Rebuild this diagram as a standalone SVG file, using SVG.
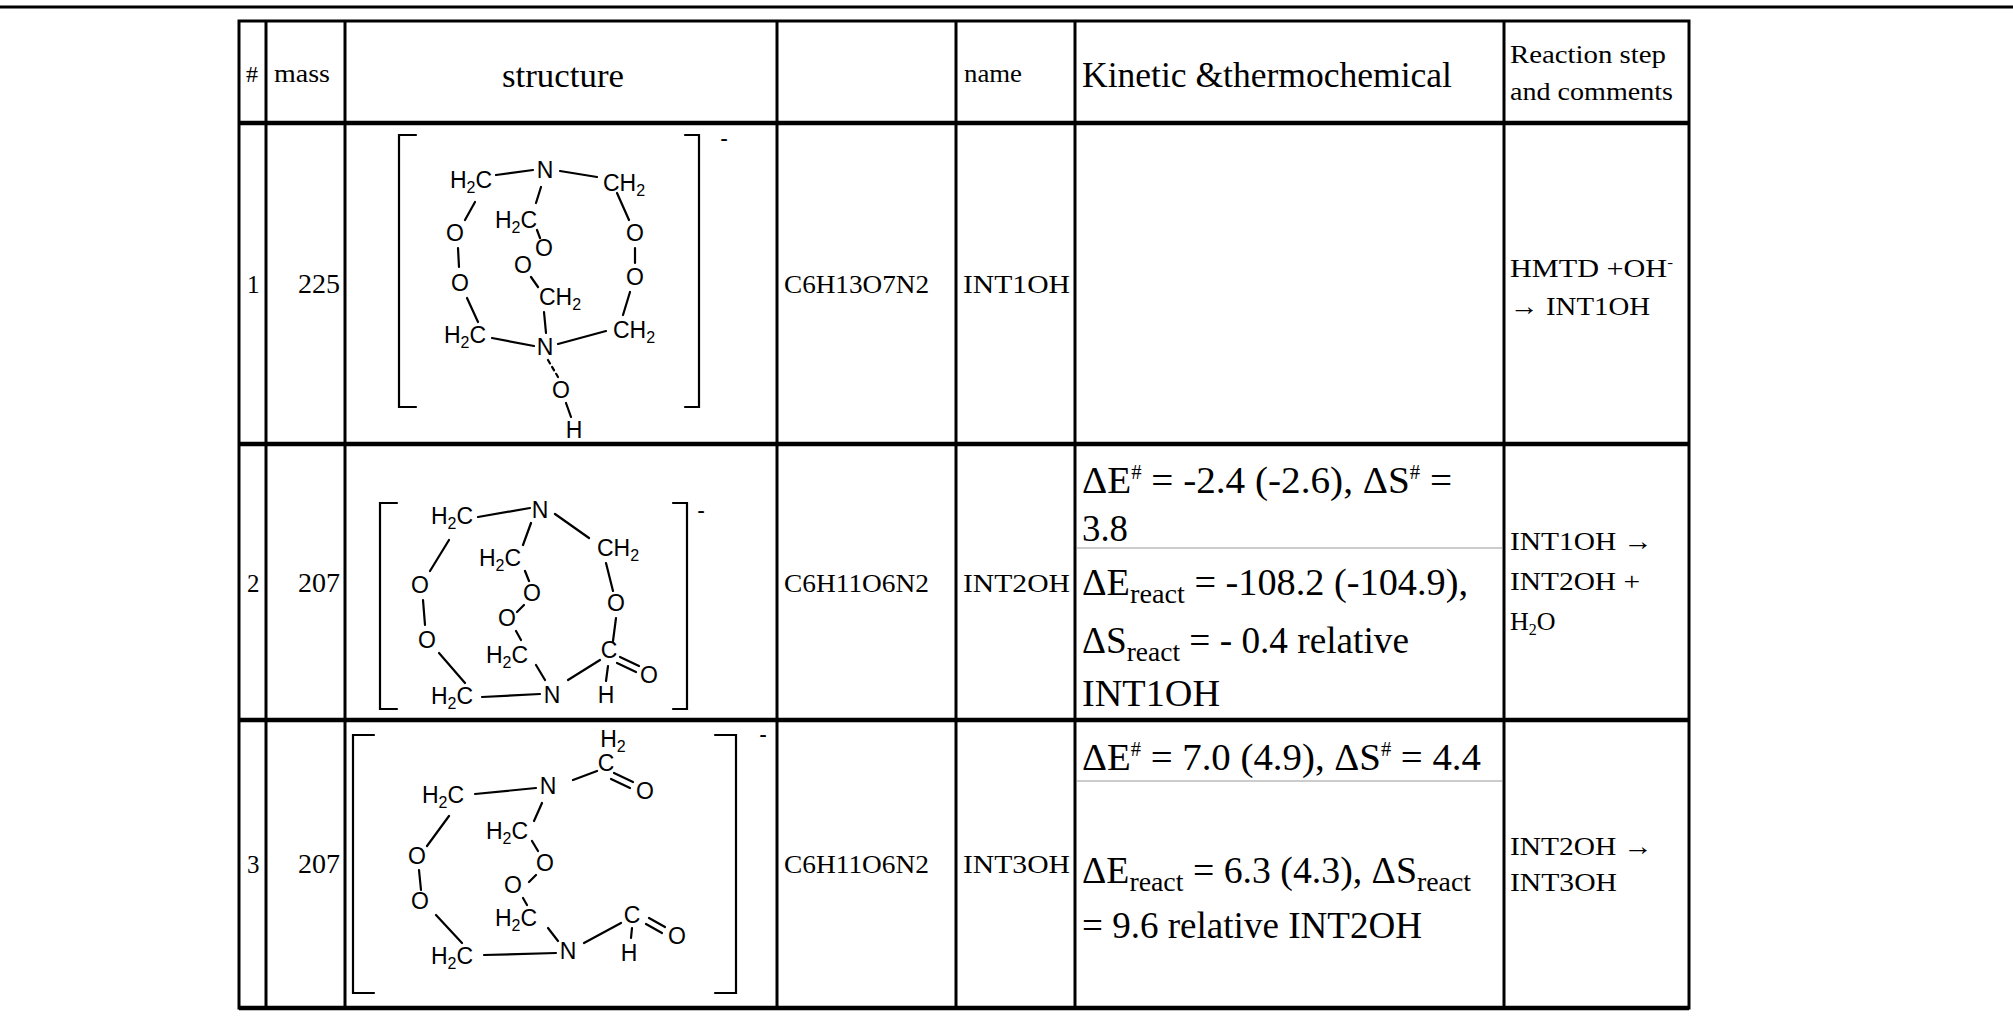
<svg xmlns="http://www.w3.org/2000/svg" width="2013" height="1027" viewBox="0 0 2013 1027">
<style>
.s{font-family:"Liberation Serif","Times New Roman",serif;fill:#000}
.c{font-family:"Liberation Sans",Arial,sans-serif;font-size:23px;fill:#000;text-anchor:middle}
.b{stroke:#000;stroke-width:2.2;fill:none;stroke-linecap:round}
.g{stroke:#000;fill:none}
</style>
<rect width="2013" height="1027" fill="#fff"/>
<line x1="0" y1="7" x2="2013" y2="7" stroke="#000" stroke-width="3"/>
<g id="grid">
<rect x="239" y="21" width="1450" height="987" class="g" stroke-width="3"/>
<line x1="266" y1="21" x2="266" y2="1008" class="g" stroke-width="3"/>
<line x1="345" y1="21" x2="345" y2="1008" class="g" stroke-width="3"/>
<line x1="777" y1="21" x2="777" y2="1008" class="g" stroke-width="3"/>
<line x1="956" y1="21" x2="956" y2="1008" class="g" stroke-width="3"/>
<line x1="1075" y1="21" x2="1075" y2="1008" class="g" stroke-width="3"/>
<line x1="1504" y1="21" x2="1504" y2="1008" class="g" stroke-width="3"/>
<line x1="239" y1="123" x2="1689" y2="123" class="g" stroke-width="4.5"/>
<line x1="239" y1="444" x2="1689" y2="444" class="g" stroke-width="4.5"/>
<line x1="239" y1="720" x2="1689" y2="720" class="g" stroke-width="4.5"/>
<line x1="239" y1="1008" x2="1689" y2="1008" class="g" stroke-width="4.5"/>
<line x1="1077" y1="548" x2="1502" y2="548" stroke="#ccc" stroke-width="2"/>
<line x1="1077" y1="781" x2="1502" y2="781" stroke="#ccc" stroke-width="2"/>
</g>
<g id="header">
<text class="s" x="246" y="82" font-size="24">#</text>
<text class="s" x="274" y="82" font-size="25" textLength="56" lengthAdjust="spacingAndGlyphs">mass</text>
<text class="s" x="502" y="87" font-size="34" textLength="122" lengthAdjust="spacingAndGlyphs">structure</text>
<text class="s" x="964" y="82" font-size="25" textLength="58" lengthAdjust="spacingAndGlyphs">name</text>
<text class="s" x="1082" y="87" font-size="36" textLength="370" lengthAdjust="spacingAndGlyphs">Kinetic &amp;thermochemical</text>
<text class="s" x="1510" y="63" font-size="26" textLength="156" lengthAdjust="spacingAndGlyphs">Reaction step</text>
<text class="s" x="1510" y="100" font-size="26" textLength="163" lengthAdjust="spacingAndGlyphs">and comments</text>
</g>
<g id="row1">
<text class="s" x="247" y="293" font-size="25">1</text>
<text class="s" x="340" y="293" font-size="27" text-anchor="end" textLength="42" lengthAdjust="spacingAndGlyphs">225</text>
<text class="s" x="784" y="293" font-size="26" textLength="145" lengthAdjust="spacingAndGlyphs">C6H13O7N2</text>
<text class="s" x="963" y="293" font-size="26" textLength="107" lengthAdjust="spacingAndGlyphs">INT1OH</text>
<text class="s" x="1510" y="277" font-size="26" textLength="163" lengthAdjust="spacingAndGlyphs">HMTD +OH<tspan dy="-10" font-size="15">-</tspan></text>
<text class="s" x="1510" y="315" font-size="26" textLength="140" lengthAdjust="spacingAndGlyphs">→ INT1OH</text>
<g id="struct1">
<path class="b" d="M416 135 H399 V407 H416 M685 135 H699 V407 H685" stroke-width="2.5"/>
<text class="c" x="724" y="146">-</text>
<text class="c" x="545" y="178">N</text>
<text class="c" x="471" y="188">H<tspan dy="5" font-size="16">2</tspan><tspan dy="-5">C</tspan></text>
<text class="c" x="624" y="191">CH<tspan dy="5" font-size="16">2</tspan></text>
<text class="c" x="516" y="228">H<tspan dy="5" font-size="16">2</tspan><tspan dy="-5">C</tspan></text>
<text class="c" x="455" y="241">O</text>
<text class="c" x="460" y="291">O</text>
<text class="c" x="544" y="256">O</text>
<text class="c" x="523" y="273">O</text>
<text class="c" x="560" y="305">CH<tspan dy="5" font-size="16">2</tspan></text>
<text class="c" x="635" y="241">O</text>
<text class="c" x="635" y="285">O</text>
<text class="c" x="465" y="343">H<tspan dy="5" font-size="16">2</tspan><tspan dy="-5">C</tspan></text>
<text class="c" x="545" y="355">N</text>
<text class="c" x="634" y="338">CH<tspan dy="5" font-size="16">2</tspan></text>
<text class="c" x="561" y="398">O</text>
<text class="c" x="574" y="438">H</text>
<path class="b" d="M496 175L533 170M560 171L597 177M541 187L536 203M475 202L465 220M458 248L459 267M467 298L478 322M537 230L540 238M531 277L538 287M544 312L546 333M617 193L629 220M635 248L635 263M630 292L623 315M492 338L534 346M558 344L606 331M566 403L571 417"/>
<path class="b" d="M548 360L558 377" stroke-dasharray="4 4"/>
</g>
</g>
<g id="row2">
<text class="s" x="247" y="592" font-size="25">2</text>
<text class="s" x="340" y="592" font-size="27" text-anchor="end" textLength="42" lengthAdjust="spacingAndGlyphs">207</text>
<text class="s" x="784" y="592" font-size="26" textLength="145" lengthAdjust="spacingAndGlyphs">C6H11O6N2</text>
<text class="s" x="963" y="592" font-size="26" textLength="107" lengthAdjust="spacingAndGlyphs">INT2OH</text>
<text class="s" x="1082" y="493" font-size="38" textLength="370" lengthAdjust="spacingAndGlyphs">ΔE<tspan dy="-14" font-size="20">#</tspan><tspan dy="14"> = -2.4 (-2.6), ΔS</tspan><tspan dy="-14" font-size="20">#</tspan><tspan dy="14"> =</tspan></text>
<text class="s" x="1082" y="541" font-size="38" textLength="46" lengthAdjust="spacingAndGlyphs">3.8</text>
<text class="s" x="1082" y="595" font-size="38" textLength="386" lengthAdjust="spacingAndGlyphs">ΔE<tspan dy="8" font-size="28">react</tspan><tspan dy="-8"> = -108.2 (-104.9),</tspan></text>
<text class="s" x="1082" y="653" font-size="38" textLength="327" lengthAdjust="spacingAndGlyphs">ΔS<tspan dy="8" font-size="28">react</tspan><tspan dy="-8"> = - 0.4 relative</tspan></text>
<text class="s" x="1082" y="706" font-size="38" textLength="138" lengthAdjust="spacingAndGlyphs">INT1OH</text>
<text class="s" x="1510" y="550" font-size="26" textLength="143" lengthAdjust="spacingAndGlyphs">INT1OH →</text>
<text class="s" x="1510" y="590" font-size="26" textLength="130" lengthAdjust="spacingAndGlyphs">INT2OH +</text>
<text class="s" x="1510" y="630" font-size="26">H<tspan dy="5" font-size="16">2</tspan><tspan dy="-5">O</tspan></text>
<g id="struct2">
<path class="b" d="M397 503 H380 V709 H397 M673 503 H687 V709 H673" stroke-width="2.5"/>
<text class="c" x="701" y="518">-</text>
<text class="c" x="540" y="518">N</text>
<text class="c" x="452" y="524">H<tspan dy="5" font-size="16">2</tspan><tspan dy="-5">C</tspan></text>
<text class="c" x="618" y="556">CH<tspan dy="5" font-size="16">2</tspan></text>
<text class="c" x="500" y="566">H<tspan dy="5" font-size="16">2</tspan><tspan dy="-5">C</tspan></text>
<text class="c" x="420" y="593">O</text>
<text class="c" x="427" y="648">O</text>
<text class="c" x="532" y="601">O</text>
<text class="c" x="507" y="626">O</text>
<text class="c" x="507" y="663">H<tspan dy="5" font-size="16">2</tspan><tspan dy="-5">C</tspan></text>
<text class="c" x="616" y="611">O</text>
<text class="c" x="609" y="658">C</text>
<text class="c" x="649" y="683">O</text>
<text class="c" x="606" y="703">H</text>
<text class="c" x="452" y="704">H<tspan dy="5" font-size="16">2</tspan><tspan dy="-5">C</tspan></text>
<text class="c" x="552" y="703">N</text>
<path class="b" d="M478 517L530 508M555 514L589 538M531 523L523 545M449 540L430 571M423 600L425 625M439 653L465 683M482 697L540 694M525 571L529 581M524 605L517 612M516 631L521 640M536 665L545 680M568 680L600 660M606 563L613 591M616 618L613 641M620 657L639 666M617 663L636 672M608 666L606 681"/>
</g>
</g>
<g id="row3">
<text class="s" x="247" y="873" font-size="25">3</text>
<text class="s" x="340" y="873" font-size="27" text-anchor="end" textLength="42" lengthAdjust="spacingAndGlyphs">207</text>
<text class="s" x="784" y="873" font-size="26" textLength="145" lengthAdjust="spacingAndGlyphs">C6H11O6N2</text>
<text class="s" x="963" y="873" font-size="26" textLength="107" lengthAdjust="spacingAndGlyphs">INT3OH</text>
<text class="s" x="1082" y="770" font-size="38" textLength="399" lengthAdjust="spacingAndGlyphs">ΔE<tspan dy="-14" font-size="20">#</tspan><tspan dy="14"> = 7.0 (4.9), ΔS</tspan><tspan dy="-14" font-size="20">#</tspan><tspan dy="14"> = 4.4</tspan></text>
<text class="s" x="1082" y="883" font-size="38" textLength="389" lengthAdjust="spacingAndGlyphs">ΔE<tspan dy="8" font-size="28">react</tspan><tspan dy="-8"> = 6.3 (4.3), ΔS</tspan><tspan dy="8" font-size="28">react</tspan></text>
<text class="s" x="1082" y="938" font-size="38" textLength="340" lengthAdjust="spacingAndGlyphs">= 9.6 relative INT2OH</text>
<text class="s" x="1510" y="855" font-size="26" textLength="143" lengthAdjust="spacingAndGlyphs">INT2OH →</text>
<text class="s" x="1510" y="891" font-size="26" textLength="107" lengthAdjust="spacingAndGlyphs">INT3OH</text>
<g id="struct3">
<path class="b" d="M374 735 H353 V993 H374 M715 735 H736 V993 H715" stroke-width="2.5"/>
<text class="c" x="763" y="742">-</text>
<text class="c" x="613" y="747">H<tspan dy="5" font-size="16">2</tspan></text>
<text class="c" x="606" y="771">C</text>
<text class="c" x="645" y="799">O</text>
<text class="c" x="548" y="794">N</text>
<text class="c" x="443" y="803">H<tspan dy="5" font-size="16">2</tspan><tspan dy="-5">C</tspan></text>
<text class="c" x="507" y="839">H<tspan dy="5" font-size="16">2</tspan><tspan dy="-5">C</tspan></text>
<text class="c" x="417" y="864">O</text>
<text class="c" x="420" y="909">O</text>
<text class="c" x="545" y="871">O</text>
<text class="c" x="513" y="893">O</text>
<text class="c" x="516" y="926">H<tspan dy="5" font-size="16">2</tspan><tspan dy="-5">C</tspan></text>
<text class="c" x="452" y="964">H<tspan dy="5" font-size="16">2</tspan><tspan dy="-5">C</tspan></text>
<text class="c" x="568" y="959">N</text>
<text class="c" x="632" y="923">C</text>
<text class="c" x="677" y="944">O</text>
<text class="c" x="629" y="961">H</text>
<path class="b" d="M475 794L536 788M573 780L597 771M614 773L633 782M611 779L630 788M542 803L534 821M449 816L427 846M419 870L421 890M436 915L462 943M484 955L556 953M532 841L538 851M536 875L529 882M523 898L527 905M548 928L558 941M584 943L621 923M649 918L665 927M646 924L662 933M632 928L631 938"/>
</g>
</g>
</svg>
